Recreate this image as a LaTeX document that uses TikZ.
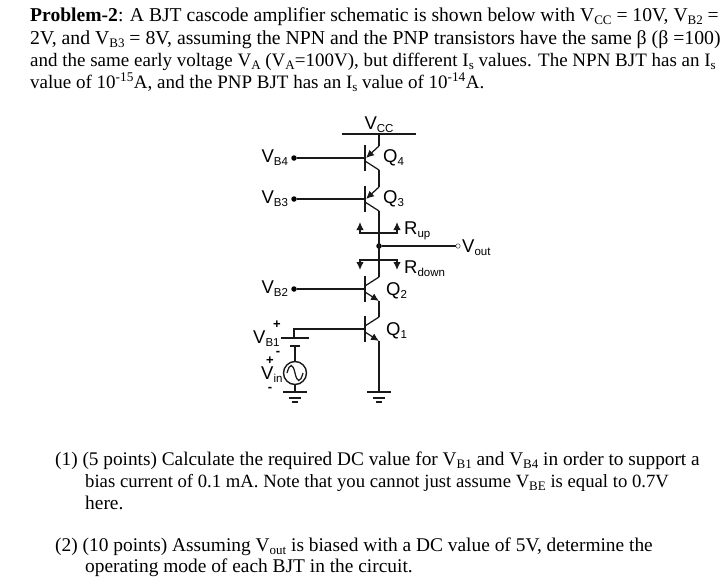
\documentclass[tikz,border=0pt]{standalone}
\usepackage{fontspec}
\setmainfont{Liberation Serif}
\setsansfont{Liberation Sans}
\usetikzlibrary{calc, positioning, arrows.meta}
\newcommand{\sublow}[1]{\raisebox{-.3ex}{\fontsize{11.5}{11.5}\selectfont #1}}
\newcommand{\bodysub}[1]{\raisebox{-.35ex}{\fontsize{13}{13}\selectfont #1}}

\begin{document}
\begin{tikzpicture}[
    x=1pt, y=-1pt,
    >={Latex[length=8pt,width=7.5pt]},
    textline/.style=
    {anchor=base west, inner sep=0pt, font=\fontsize{#1}{22}\selectfont},
    textline/.default=19.4,
    circuitlabel/.style=
    {inner sep=0pt, font=\sffamily\fontsize{18.5}{20}\selectfont},
    signlabel/.style=
    {inner sep=0pt, font=\sffamily\bfseries\fontsize{13}{13}\selectfont},
    wire/.style=
    {draw=black!90, line width=1.25pt},
    plate/.style=
    {draw=black!90, line width=1.4pt},
    dot/.style=
    {circle, fill=black, inner sep=0pt, outer sep=0pt, minimum size=5.5pt},
    hollow/.style=
    {circle, draw=black!90, fill=white, inner sep=0pt, outer sep=0pt, minimum size=4.5pt}]
    \useasboundingbox (0,0) rectangle (721,587);

    \node (line1) [textline=19.6] at (30,21) {\textbf{Problem-2}: A BJT cascode amplifier schematic is shown below with V\bodysub{CC} = 10V, V\bodysub{B2} =};
    \node (line2) [textline=19.75] at (30,44) {2V, and V\bodysub{B3} = 8V, assuming the NPN and the PNP transistors have the same β (β =100)};
    \node (line3) [textline=19] at (30,66) {and the same early voltage V\bodysub{A} (V\bodysub{A}=100V), but different I\bodysub{s} values. The NPN BJT has an I\bodysub{s}};
    \node (line4) [textline=19] at (30,88) {value of 10\textsuperscript{-15}A, and the PNP BJT has an I\bodysub{s} value of 10\textsuperscript{-14}A.};
    \node (part1a) [textline=19.3] at (55,465) {(1) (5 points) Calculate the required DC value for V\bodysub{B1} and V\bodysub{B4} in order to support a};
    \node (part1b) [textline=18.7] at (85,487) {bias current of 0.1 mA. Note that you cannot just assume V\bodysub{BE} is equal to 0.7V};
    \node (part1c) [textline] at (85,509) {here.};
    \node (part2a) [textline] at (55,551) {(2) (10 points) Assuming V\bodysub{out} is biased with a DC value of 5V, determine the};
    \node (part2b) [textline] at (85,572) {operating mode of each BJT in the circuit.};

    \coordinate (vcc left) at (342,134);
    \coordinate (vcc right) at (416,134);
    \coordinate (vcc tap) at (379,134);
    \draw[plate] (vcc left) -- (vcc right);
    \node (vcc) [circuitlabel, above=1pt of vcc tap] {V\sublow{CC}};

    \foreach \n/\ypos in {4/158, 3/199, 2/289, 1/329} {
        \coordinate (base\n) at (365,\ypos);
        \coordinate (top\n) at (379,\ypos-12);
        \coordinate (bot\n) at (379,\ypos+12);
        \draw[plate] ($(base\n)+(0,-13)$) -- ($(base\n)+(0,13)$);
    }
    \foreach \n in {4,3} {
        \draw[wire, ->] (top\n) -- ($(base\n)+(1,0)$);
        \draw[wire] ($(base\n)+(0,3)$) -- (bot\n);
    }
    \foreach \n in {2,1} {
        \draw[wire] ($(base\n)+(0,-3)$) -- (top\n);
        \draw[wire, ->] ($(base\n)+(0,3)$) -- (bot\n);
    }

    \node (q4) [circuitlabel, anchor=west] at (383,158) {Q\sublow{4}};
    \node (q3) [circuitlabel, anchor=west] at (383,199) {Q\sublow{3}};
    \node (q2) [circuitlabel, anchor=west] at (386,291) {Q\sublow{2}};
    \node (q1) [circuitlabel, anchor=west] at (386,331) {Q\sublow{1}};

    \node (vb4 dot) [dot] at (294,158) {};
    \node (vb3 dot) [dot] at (294,199) {};
    \node (vb2 dot) [dot] at (294,289) {};
    \node (vb4) [circuitlabel, left=3pt of vb4 dot] {V\sublow{B4}};
    \node (vb3) [circuitlabel, left=3pt of vb3 dot] {V\sublow{B3}};
    \node (vb2) [circuitlabel, left=3pt of vb2 dot] {V\sublow{B2}};
    \draw[wire] (vb4 dot) -- (base4);
    \draw[wire] (vb3 dot) -- (base3);
    \draw[wire] (vb2 dot) -- (base2);

    \coordinate (out) at (379,246);
    \coordinate (gnd1) at (379,392);
    \node (out dot) [dot] at (out) {};
    \node (out end) [hollow] at (458,246) {};
    \node (vout) [circuitlabel, anchor=west] at (462,248) {V\sublow{out}};
    \draw[wire] (vcc tap) -- (top4);
    \draw[wire] (bot4) -- (top3);
    \draw[wire] (bot3) -- (top2);
    \draw[wire] (bot2) -- (top1);
    \draw[wire] (bot1) -- (gnd1);
    \draw[wire] (out dot) -- (out end);

    \coordinate (up tap) at (379,233);
    \coordinate (down tap) at (379,260);
    \draw[wire, <->] (360,222) |- (up tap) -| (397,222);
    \draw[wire, <->] (360,270) |- (down tap) -| (397,270);
    \node (rup) [circuitlabel, anchor=west] at (404,231) {R\sublow{up}};
    \node (rdown) [circuitlabel, anchor=west] at (404,269) {R\sublow{down}};

    \coordinate (vb1 corner) at (294,329);
    \coordinate (vb1 top) at (294,338);
    \coordinate (vb1 low) at (295,346);
    \draw[wire] (base1) -- (vb1 corner) -- (vb1 top);
    \draw[plate] (281,338) -- (309,338);
    \draw[plate] (290,346) -- (300,346);
    \node (vin source) [circle, draw=black!90, line width=1.4pt, outer sep=0pt, minimum size=23pt, inner sep=0pt] at (295,373) {};
    \draw[wire] (vb1 low) -- (vin source);
    \draw[wire] (287,373) .. controls (290,362) and (293,364) .. (295,373) .. controls (297,382) and (300,384) .. (303,373);
    \coordinate (gnd2) at (295,392);
    \draw[wire] (vin source) -- (gnd2);

    \draw[plate] (283,392) -- (307,392) (289,398) -- (301,398) (292,402) -- (298,402);
    \draw[plate] (367,392) -- (391,392) (373,398) -- (385,398) (376,402) -- (382,402);

    \node (vb1) [circuitlabel, anchor=west] at (253,339) {V\sublow{B1}};
    \node (vb1 plus) [signlabel] at (277,325) {+};
    \node (vb1 minus) [signlabel] at (278,353) {-};
    \node (vin) [circuitlabel, anchor=west] at (261,375) {V\sublow{in}};
    \node (vin plus) [signlabel] at (270,361) {+};
    \node (vin minus) [signlabel] at (270,389) {-};
\end{tikzpicture}
\end{document}
